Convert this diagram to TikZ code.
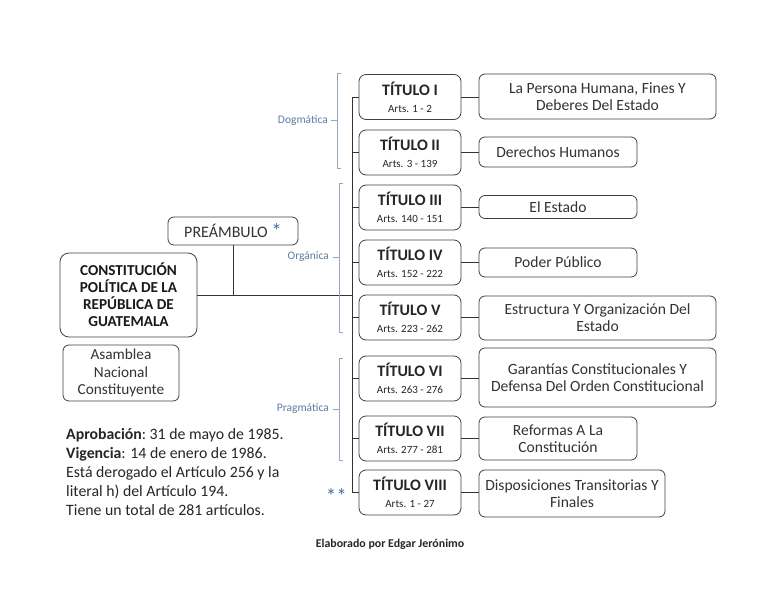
\documentclass[tikz,border=0pt]{standalone}
\usepackage{fontspec}
\setmainfont{Carlito}
\definecolor{labc}{RGB}{95,125,165}
\definecolor{brkc}{RGB}{150,165,185}
\definecolor{astc}{RGB}{70,110,170}
\begin{document}
\begin{tikzpicture}[x=1pt,y=-1pt,
  tbox/.style={draw=black!75,line width=0.8pt,rounded corners=7pt,minimum width=102pt,minimum height=45pt,inner sep=0pt,align=center,text=black!85},
  rbox/.style={draw=black!75,line width=0.8pt,rounded corners=6pt,inner sep=0pt,align=center,text=black!80,font=\fontsize{15.6}{17}\selectfont},
  link/.style={draw=black!80,line width=0.8pt},
  brk/.style={draw=brkc,line width=0.7pt},
  blab/.style={text=labc,font=\fontsize{11.5}{12}\selectfont,anchor=east,inner sep=0pt},
  ast/.style={text=astc}
]
\useasboundingbox[fill=white] (0,0) rectangle (768,594);

% title boxes
\newcommand{\ttl}[2]{{\fontsize{16}{16}\selectfont\bfseries #1}\\[5pt]{\fontsize{11}{11}\selectfont #2}}
\node[tbox] (t1) at (410,97)   {\ttl{TÍTULO I}{Arts. 1 - 2}};
\node[tbox] (t2) at (410,152.5){\ttl{TÍTULO II}{Arts. 3 - 139}};
\node[tbox] (t3) at (410,207.5){\ttl{TÍTULO III}{Arts. 140 - 151}};
\node[tbox] (t4) at (410,262.5){\ttl{TÍTULO IV}{Arts. 152 - 222}};
\node[tbox] (t5) at (410,317.5){\ttl{TÍTULO V}{Arts. 223 - 262}};
\node[tbox] (t6) at (410,378.5){\ttl{TÍTULO VI}{Arts. 263 - 276}};
\node[tbox] (t7) at (410,438.5){\ttl{TÍTULO VII}{Arts. 277 - 281}};
\node[tbox] (t8) at (410,492.5){\ttl{TÍTULO VIII}{Arts. 1 - 27}};

% right boxes
\node[rbox,minimum width=237pt,minimum height=45pt] (r1) at (597.5,96.5) {La Persona Humana, Fines Y\\Deberes Del Estado};
\node[rbox,minimum width=158pt,minimum height=30pt] (r2) at (558,152) {Derechos Humanos};
\node[rbox,minimum width=158pt,minimum height=23pt] (r3) at (558,207) {El Estado};
\node[rbox,minimum width=158pt,minimum height=29pt] (r4) at (558,262.5) {Poder Público};
\node[rbox,minimum width=237pt,minimum height=44pt] (r5) at (597.5,318) {Estructura Y Organización Del\\Estado};
\node[rbox,minimum width=237pt,minimum height=59pt] (r6) at (597.5,377.5) {Garantías Constitucionales Y\\Defensa Del Orden Constitucional};
\node[rbox,minimum width=158pt,minimum height=43pt] (r7) at (558,438.5) {Reformas A La\\Constitución};
\node[rbox,minimum width=186pt,minimum height=47pt] (r8) at (572,493.5) {Disposiciones Transitorias Y\\Finales};

\foreach \i in {1,...,8}{\draw[link] (t\i.east) -- (t\i.east -| r\i.west);}

% main boxes
\node[rbox,minimum width=137pt,minimum height=84pt,rounded corners=9pt,font=\fontsize{15.2}{17}\selectfont\bfseries,text=black!90] (cpg) at (128.5,295) {CONSTITUCIÓN\\POLÍTICA DE LA\\REPÚBLICA DE\\GUATEMALA};
\node[rbox,minimum width=130pt,minimum height=28pt,font=\fontsize{16}{17}\selectfont] (pre) at (233,231) {PREÁMBULO {\color{astc}\fontsize{21}{17}\selectfont\raisebox{-1pt}{*}}};
\node[rbox,minimum width=116pt,minimum height=56pt,font=\fontsize{15.3}{17.5}\selectfont] (asm) at (121,373) {Asamblea\\Nacional\\Constituyente};

% spine
\coordinate (sp) at (352,0);
\draw[link] (sp |- t1.west) -- (sp |- t8.west);
\foreach \i in {1,...,8}{\draw[link] (sp |- t\i.west) -- (t\i.west);}
\draw[link] (cpg.east) -- (sp |- cpg.east);
\draw[link] (pre.south) -- (pre.south |- cpg.east);

% brackets
\draw[brk] (341,73) -- (337,73) -- (337,168) -- (341,168);
\draw[brk] (337,120.5) -- (331,120.5);
\node[blab] (lb1) at (328,121) {Dogmática};
\draw[brk] (343,183) -- (339,183) -- (339,332) -- (343,332);
\draw[brk] (339,257) -- (333,257);
\node[blab] (lb2) at (329,257) {Orgánica};
\draw[brk] (343,358) -- (339,358) -- (339,460) -- (343,460);
\draw[brk] (339,409) -- (333,409);
\node[blab] (lb3) at (329,408.5) {Pragmática};
\node[ast,anchor=east,inner sep=0pt,font=\fontsize{21}{21}\selectfont] (ss) at (347,496) {**};

% notes
\node[anchor=west,inner sep=0pt,align=left,text=black!85,font=\fontsize{15.8}{19}\selectfont] (notes) at (66,472)
{\textbf{Aprobación}:\ 31 de mayo de 1985.\\
\textbf{Vigencia}: 14 de enero de 1986.\\
Está derogado el Artículo 256 y la\\
literal h) del Artículo 194.\\
Tiene un total de 281 artículos.};

\node[inner sep=0pt,font=\fontsize{11.9}{12}\selectfont\bfseries,text=black!85] (foot) at (390,544) {Elaborado por Edgar Jerónimo};
\end{tikzpicture}
\end{document}
